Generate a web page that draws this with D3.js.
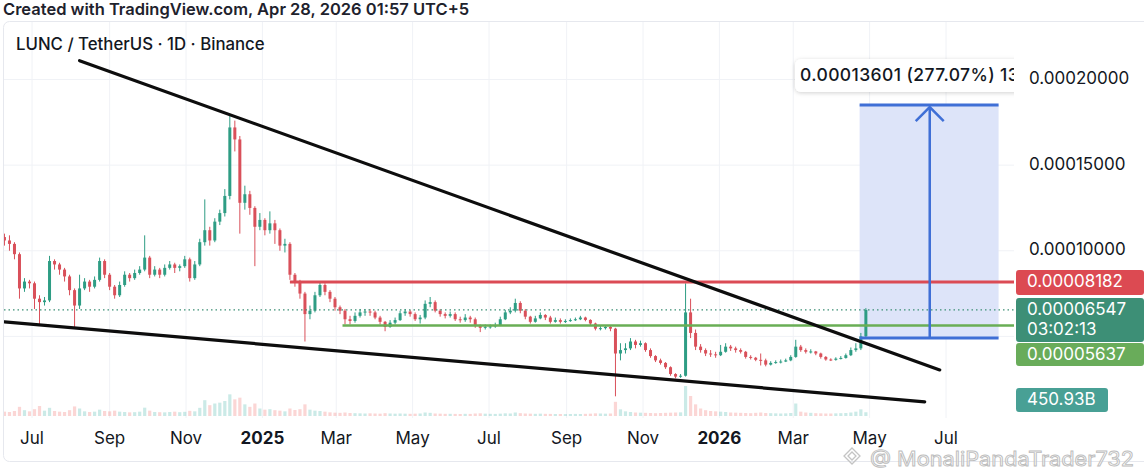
<!DOCTYPE html>
<html>
<head>
<meta charset="utf-8">
<script src="https://cdn.jsdelivr.net/npm/d3@7"></script>
<style>
  body { margin: 0; background: #ffffff; }
  svg { font-family: Inter, "Noto Sans", sans-serif; }
</style>
</head>
<body>
<script>
//chart data, prices in millionths of USDT (1 = 0.000001)
var startDate = new Date(2024, 5, 9); //first candle
var stepDays = 4; //one candle every 4 days
var firstOpen = 108;

var closes = [
  106, 104, 98, 78, 82, 81, 72, 70, 71, 94,
  92, 89, 85, 77, 68, 78, 82, 79, 83, 94,
  86, 79, 74, 80, 86, 84, 87, 89, 96, 86,
  89, 86, 90, 92, 90, 91, 95, 84, 92, 105,
  112, 106, 117, 122, 132, 172, 165, 128, 133, 125,
  114, 118, 112, 116, 112, 103, 104, 86, 82, 75,
  63, 65, 74, 80, 76, 72, 67, 65, 60, 59,
  62, 64, 64.5, 64, 61, 58.5, 55.5, 58, 59.5, 63.5,
  64.5, 63, 60, 61, 69, 70, 65, 63, 62, 63,
  60, 59.5, 61, 60, 56, 55, 55.6, 55.8, 56.5, 60,
  64, 65, 69.5, 65, 61.5, 58.5, 60.5, 62.5, 61, 58.5,
  59.5, 58.5, 59, 59.5, 60, 61, 59.6, 57.5, 54.5, 54.8,
  55.5, 54.5, 40, 42, 43, 47, 45, 46, 42, 38.5,
  36, 34.5, 32, 28, 26.5, 27, 64, 52, 44, 42,
  40, 39.5, 39, 41, 44, 43, 42, 41, 38, 37.5,
  36.3, 36, 33.5, 34.5, 35, 35.3, 36, 38, 44, 42,
  41, 41.2, 40, 38, 36.5, 36.3, 37, 37.4, 39, 42,
  43, 50, 65.47
];

var highs = [
  110, 109, 105, 99, 84, 83, 82, 74, 73, 97,
  95, 93, 90, 86, 78, 86, 84, 83, 85, 96,
  95, 87, 80, 82, 88, 87, 89, 91, 109, 97,
  91, 90, 92, 94, 93, 92, 97, 96, 94, 107,
  130, 114, 119, 124, 136, 179, 176, 167, 138, 135,
  126, 122, 119, 123, 118, 113, 107, 105, 87, 83,
  76, 68, 76, 82, 81, 77, 73, 68, 66, 62,
  64, 66, 66, 66, 65, 62, 59, 59.5, 61, 65,
  66, 65.5, 64, 62.5, 71, 73, 71, 66, 64, 64.5,
  64, 61.5, 63, 62, 61, 57, 57, 57, 58, 61.5,
  65.5, 67, 72, 70.5, 66, 62, 62, 64, 63, 62,
  61, 60.5, 60, 60.5, 61, 62, 61.5, 60, 58, 56,
  56.5, 56, 55, 46, 46, 49, 48, 47.5, 46.5, 43,
  39, 37, 35, 32.5, 28.5, 28, 81, 72, 54, 45.5,
  43, 42, 41, 45, 46, 45, 44, 43, 41.5, 39,
  38, 40, 37, 35.5, 36, 36.5, 37, 39, 48, 45,
  43, 42.5, 41.5, 40.5, 38.5, 37.2, 37.8, 38.5, 40, 43.5,
  46, 52, 66.5
];

var lows = [
  103, 100, 95, 72, 76, 78, 66, 57, 68, 70,
  89, 86, 82, 74, 55, 66, 77, 76, 78, 82,
  84, 77, 72, 73, 79, 82, 83, 86, 88, 84,
  85, 84, 85, 89, 87, 88, 90, 82, 83, 91,
  103, 103, 105, 115, 120, 130, 158, 110, 124, 121,
  91, 112, 109, 110, 104, 100, 99, 83, 79, 72,
  47, 60, 64, 73, 74, 70, 65, 63, 57, 57,
  58, 61, 62, 62, 60, 57, 53, 55, 57, 59,
  62, 61.5, 59, 57.5, 60, 67, 64, 61.5, 60.5, 61,
  59, 58, 58.5, 58, 55, 52.5, 54, 54.5, 55, 56,
  59.5, 63, 64, 63.5, 60, 57.5, 58, 60, 59.5, 57.5,
  58, 57.5, 57.8, 58.5, 59, 59.5, 58.8, 56.5, 53.5, 53.5,
  54, 53, 15, 36, 40, 42, 43, 44, 41, 37.5,
  35, 33.5, 31, 27, 25.5, 25.8, 26.5, 49, 42, 40.5,
  38.5, 38, 37.5, 38.5, 40.5, 41.5, 40.5, 40, 37, 36.5,
  35.5, 33, 32.5, 33, 34, 34.2, 35, 35.5, 37.5, 41,
  40, 40, 39, 37, 35.8, 35.6, 35.8, 36.5, 37, 38.5,
  41, 42, 49.5
];

//volume in billions of LUNC
var volumes = [
  520, 480, 600, 1100, 700, 560, 820, 1200, 640, 980,
  600, 520, 480, 700, 1150, 900, 560, 480, 520, 760,
  600, 560, 640, 520, 480, 440, 460, 520, 1000, 640,
  480, 460, 440, 480, 520, 460, 500, 620, 560, 980,
  1900, 1300, 1500, 1600, 1800, 2600, 2000, 2200, 1400, 1100,
  1500, 900, 760, 820, 700, 640, 560, 900, 720, 820,
  1400, 760, 640, 600, 520, 440, 400, 380, 420, 360,
  340, 320, 300, 320, 300, 280, 340, 300, 280, 300,
  280, 260, 280, 300, 420, 380, 300, 280, 260, 260,
  250, 240, 260, 250, 300, 320, 280, 260, 250, 280,
  320, 300, 420, 340, 300, 280, 260, 280, 260, 250,
  240, 240, 230, 240, 250, 240, 260, 280, 320, 300,
  280, 300, 1700, 800, 560, 480, 420, 400, 380, 360,
  340, 360, 380, 400, 420, 440, 3600, 2400, 1400, 900,
  700, 600, 560, 520, 480, 420, 400, 380, 360, 340,
  380, 420, 360, 340, 320, 300, 320, 360, 1500, 520,
  420, 380, 340, 320, 300, 300, 320, 340, 360, 420,
  520, 800, 450.93
];

//axis labels
var monthTicks = [
  new Date(2024, 6, 1), new Date(2024, 8, 1), new Date(2024, 10, 1),
  new Date(2025, 0, 1), new Date(2025, 2, 1), new Date(2025, 4, 1),
  new Date(2025, 6, 1), new Date(2025, 8, 1), new Date(2025, 10, 1),
  new Date(2026, 0, 1), new Date(2026, 2, 1), new Date(2026, 4, 1),
  new Date(2026, 6, 1)
];
var monthLabels = ["Jul", "Sep", "Nov", "2025", "Mar", "May", "Jul", "Sep", "Nov", "2026", "Mar", "May", "Jul"];
var gridPrices = [50, 100, 150, 200];
var labelPrices = [100, 150, 200];

//drawn levels
var resistance = 81.82, lastPrice = 65.47, support = 56.37;
var resistanceStart = new Date(2025, 0, 23);
var supportStart = new Date(2025, 2, 6);
var upperTrend = [[new Date(2024, 7, 8), 211], [new Date(2026, 5, 26), 30.4]];
var lowerTrend = [[new Date(2024, 5, 9), 58.5], [new Date(2026, 5, 14), 11.7]];

//price range measure
var measureLow = 49.09, measureHigh = 185.1;
var measureStart = new Date(2026, 3, 23), measureEnd = new Date(2026, 7, 12);
var measureArrowDate = new Date(2026, 5, 18);
var measureText = "0.00013601 (277.07%) 13";
var countdown = "03:02:13";
var volumeText = "450.93B";

window.onload = function(){
  var w = 1144, h = 476;
  var plotRight = 1014;
  var fmt = function(v){ return (v / 1e6).toFixed(8); };

  var svg = d3.select("body")
      .append("svg")
      .attr("width", w)
      .attr("height", h);

  var defs = svg.append("defs");
  defs.append("clipPath").attr("id", "plotClip")
      .append("rect").attr("x", 4).attr("y", 22).attr("width", plotRight - 4).attr("height", 396);
  defs.append("clipPath").attr("id", "labelClip")
      .append("rect").attr("x", 790).attr("y", 50).attr("width", plotRight - 790).attr("height", 50);
  var shadow = defs.append("filter").attr("id", "shadow")
      .attr("x", "-10%").attr("y", "-30%").attr("width", "120%").attr("height", "160%");
  shadow.append("feDropShadow").attr("dx", 0).attr("dy", 1).attr("stdDeviation", 2)
      .attr("flood-color", "#000").attr("flood-opacity", 0.18);

  //scales
  var x = d3.scaleTime()
      .domain([new Date(2024, 6, 1), new Date(2026, 6, 1)])
      .range([32, 946]);
  var y = d3.scaleLinear()
      .domain([0, 200])
      .range([422, 79.5]);
  var vol = d3.scaleLinear()
      .domain([0, 3600])
      .range([0, 30]);

  //candle table
  var candles = closes.map(function(c, i){
    return {
      date: d3.timeDay.offset(startDate, i * stepDays),
      open: i === 0 ? firstOpen : closes[i - 1],
      close: c,
      high: highs[i],
      low: lows[i],
      volume: volumes[i]
    };
  });

  //header text
  svg.append("text")
      .attr("x", 3).attr("y", 15)
      .attr("font-size", 16.5).attr("font-weight", 600)
      .attr("fill", "#1e222d")
      .text("Created with TradingView.com, Apr 28, 2026 01:57 UTC+5");

  //chart frame
  svg.append("rect")
      .attr("x", 3.5).attr("y", 21.5)
      .attr("width", 1160).attr("height", 440)
      .attr("rx", 6)
      .attr("fill", "none")
      .attr("stroke", "#e6e8ee");

  var plot = svg.append("g").attr("clip-path", "url(#plotClip)");

  //grid
  plot.selectAll(".vgrid")
      .data(monthTicks)
      .enter().append("line")
      .attr("class", "vgrid")
      .attr("x1", function(d){ return x(d); })
      .attr("x2", function(d){ return x(d); })
      .attr("y1", 22).attr("y2", 418)
      .attr("stroke", "#f0f2f6");
  plot.selectAll(".hgrid")
      .data(gridPrices)
      .enter().append("line")
      .attr("class", "hgrid")
      .attr("x1", 4).attr("x2", plotRight)
      .attr("y1", function(d){ return y(d); })
      .attr("y2", function(d){ return y(d); })
      .attr("stroke", "#f0f2f6");

  //volume bars
  plot.selectAll(".vol")
      .data(candles)
      .enter().append("rect")
      .attr("class", "vol")
      .attr("x", function(d){ return x(d.date) - 1.6; })
      .attr("y", function(d){ return 416 - vol(d.volume); })
      .attr("width", 3.2)
      .attr("height", function(d){ return vol(d.volume); })
      .attr("fill", function(d){ return d.close >= d.open ? "#26a69a" : "#ef5350"; })
      .attr("opacity", 0.24);

  //measure box
  plot.append("rect")
      .attr("x", x(measureStart))
      .attr("y", y(measureHigh))
      .attr("width", x(measureEnd) - x(measureStart))
      .attr("height", y(measureLow) - y(measureHigh))
      .attr("fill", "#dde4f9");

  //candles
  var candle = plot.selectAll(".candle")
      .data(candles)
      .enter().append("g")
      .attr("class", "candle")
      .attr("stroke", function(d){ return d.close >= d.open ? "#2e9d84" : "#d9505a"; })
      .attr("fill", function(d){ return d.close >= d.open ? "#2e9d84" : "#d9505a"; });
  candle.append("line")
      .attr("x1", function(d){ return x(d.date); })
      .attr("x2", function(d){ return x(d.date); })
      .attr("y1", function(d){ return y(d.high); })
      .attr("y2", function(d){ return y(d.low); })
      .attr("stroke-width", 1);
  candle.append("rect")
      .attr("x", function(d){ return x(d.date) - 1.5; })
      .attr("y", function(d){ return y(Math.max(d.open, d.close)); })
      .attr("width", 3)
      .attr("height", function(d){ return Math.max(1, Math.abs(y(d.open) - y(d.close))); })
      .attr("stroke", "none");

  //horizontal levels
  plot.append("line")
      .attr("x1", 4).attr("x2", plotRight)
      .attr("y1", y(lastPrice)).attr("y2", y(lastPrice))
      .attr("stroke", "#3d8f76")
      .attr("stroke-width", 1.2)
      .attr("stroke-dasharray", "1.5,3");
  plot.append("line")
      .attr("x1", x(resistanceStart)).attr("x2", plotRight)
      .attr("y1", y(resistance)).attr("y2", y(resistance))
      .attr("stroke", "#db4b55")
      .attr("stroke-width", 3);
  plot.append("line")
      .attr("x1", x(supportStart)).attr("x2", plotRight)
      .attr("y1", y(support)).attr("y2", y(support))
      .attr("stroke", "#69ae55")
      .attr("stroke-width", 2.5);

  //wedge trend lines
  var trend = d3.line()
      .x(function(d){ return x(d[0]); })
      .y(function(d){ return y(d[1]); });
  [upperTrend, lowerTrend].forEach(function(t){
    plot.append("path")
        .attr("d", trend(t))
        .attr("fill", "none")
        .attr("stroke", "#0d0d0d")
        .attr("stroke-width", 3.2)
        .attr("stroke-linecap", "round");
  });

  //measure lines and arrow
  var blue = "#3f6fd6";
  [measureHigh, measureLow].forEach(function(p){
    plot.append("line")
        .attr("x1", x(measureStart)).attr("x2", x(measureEnd))
        .attr("y1", y(p)).attr("y2", y(p))
        .attr("stroke", blue)
        .attr("stroke-width", 3);
  });
  var ax = x(measureArrowDate), ay = y(measureHigh) + 2;
  plot.append("line")
      .attr("x1", ax).attr("x2", ax)
      .attr("y1", y(measureLow)).attr("y2", ay)
      .attr("stroke", blue).attr("stroke-width", 2.5);
  plot.append("path")
      .attr("d", "M" + (ax - 14) + "," + (ay + 14) + "L" + ax + "," + ay + "L" + (ax + 14) + "," + (ay + 14))
      .attr("fill", "none")
      .attr("stroke", blue).attr("stroke-width", 2.5);

  //measure label
  svg.append("rect")
      .attr("x", 795).attr("y", 59)
      .attr("width", 240).attr("height", 33)
      .attr("rx", 6)
      .attr("fill", "#ffffff")
      .attr("clip-path", "url(#labelClip)")
      .attr("filter", "url(#shadow)");
  svg.append("text")
      .attr("x", 800).attr("y", 76)
      .attr("dominant-baseline", "middle")
      .attr("font-size", 17.5)
      .attr("letter-spacing", 0.4)
      .attr("font-weight", 500)
      .attr("fill", "#131722")
      .attr("clip-path", "url(#labelClip)")
      .text(measureText);

  //title
  svg.append("text")
      .attr("x", 16).attr("y", 45)
      .attr("dominant-baseline", "middle")
      .attr("font-size", 16.8)
      .attr("font-weight", 500)
      .attr("fill", "#131722")
      .text("LUNC / TetherUS · 1D · Binance");

  //price axis labels
  svg.selectAll(".plabel")
      .data(labelPrices)
      .enter().append("text")
      .attr("class", "plabel")
      .attr("x", 1029)
      .attr("y", function(d){ return y(d); })
      .attr("dominant-baseline", "middle")
      .attr("font-size", 17)
      .attr("fill", "#131722")
      .text(fmt);

  //price tags on the axis
  function tag(yTop, height, fill, lines, width){
    svg.append("rect")
        .attr("x", 1016).attr("y", yTop)
        .attr("width", width || 128).attr("height", height)
        .attr("rx", 3)
        .attr("fill", fill);
    lines.forEach(function(t, i){
      svg.append("text")
          .attr("x", 1027)
          .attr("y", yTop + 12.5 + i * 20)
          .attr("dominant-baseline", "middle")
          .attr("font-size", 17)
          .attr("fill", "#ffffff")
          .text(t);
    });
  }
  tag(y(resistance) - 12, 25, "#dc4a52", [fmt(resistance)]);
  tag(y(lastPrice) - 12, 44, "#3d8f76", [fmt(lastPrice), countdown]);
  tag(y(lastPrice) + 33, 23, "#69ac5a", [fmt(support)]);
  tag(388, 24, "#48a095", [volumeText], 92);

  //time axis
  svg.selectAll(".tlabel")
      .data(monthTicks)
      .enter().append("text")
      .attr("class", "tlabel")
      .attr("x", function(d){ return x(d); })
      .attr("y", 439)
      .attr("text-anchor", "middle")
      .attr("dominant-baseline", "middle")
      .attr("font-size", 17)
      .attr("font-weight", function(d, i){ return monthLabels[i].length === 4 ? 700 : 400; })
      .attr("fill", "#131722")
      .text(function(d, i){ return monthLabels[i]; });

  //watermark
  svg.append("path")
      .attr("d", "M852,448 l8,8 l-8,8 l-8,-8 z M852,452 l4,4 l-4,4 l-4,-4 z")
      .attr("fill", "none")
      .attr("stroke", "#c4c4c4")
      .attr("stroke-width", 1.3);
  svg.append("text")
      .attr("x", 870).attr("y", 461)
      .attr("dominant-baseline", "middle")
      .attr("font-size", 20)
      .attr("textLength", 264)
      .attr("lengthAdjust", "spacingAndGlyphs")
      .attr("fill", "#ffffff")
      .attr("fill-opacity", 0.6)
      .attr("stroke", "#bdbdbd")
      .attr("stroke-width", 0.9)
      .text("@ MonaliPandaTrader732");
};
</script>
</body>
</html>
